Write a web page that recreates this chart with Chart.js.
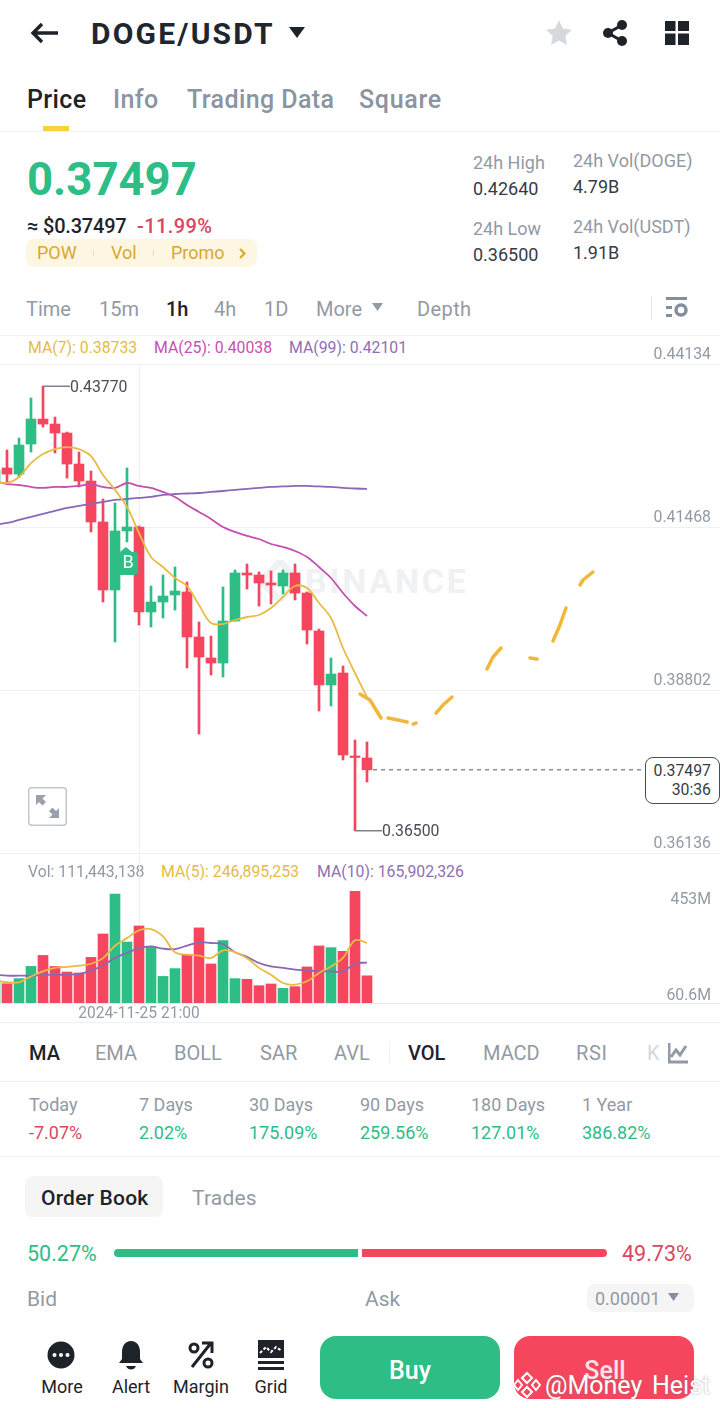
<!DOCTYPE html>
<html>
<head>
<meta charset="utf-8">
<title>DOGE/USDT</title>
<script src="https://cdn.jsdelivr.net/npm/chart.js@4/dist/chart.umd.min.js"></script>
<style>
  html, body { margin: 0; padding: 0; background: #fff; }
  #page { position: relative; width: 720px; height: 1408px; overflow: hidden; background: #fff; font-family: Roboto, sans-serif; color: #929AA5; }
  #page > * { position: absolute; }
  .t { transform: translateY(-50%); white-space: nowrap; line-height: 1; }
  .c { transform: translate(-50%, -50%); white-space: nowrap; line-height: 1; }
  .dark { color: #1E2329; }
  .green { color: #2EBD85; }
  .red { color: #D9475F; }
  .f16 { font-size: 15.8px; }
  .f17 { font-size: 17px; }
  .f18 { font-size: 18px; }
  .f20 { font-size: 20px; }
  .f21 { font-size: 21px; }
  .f25 { font-size: 25px; font-weight: 500; }
  .rule { left: 0; width: 720px; height: 1px; background: #EEF0F2; }
  .box { border-radius: 8px; background: #F5F5F5; }
</style>
</head>
<body>
<div id="page">

  <!-- header -->
  <svg style="left:30px;top:21px" width="30" height="24" viewBox="0 0 30 24"><path d="M28 12H4M12 3L3 12l9 9" fill="none" stroke="#1E2329" stroke-width="3.4"/></svg>
  <span class="t dark" style="left:91px;top:34px;font-size:30px;font-weight:700;letter-spacing:2.2px;color:#202630">DOGE/USDT</span>
  <svg style="left:288px;top:26px" width="18" height="13" viewBox="0 0 18 13"><path d="M1 1h16l-8 11z" fill="#1E2329"/></svg>
  <svg style="left:545px;top:19px" width="28" height="28" viewBox="0 0 24 24"><path d="M12 1l3.4 7.2 7.6 1-5.6 5.3 1.5 7.8L12 18.4 5.100 22.300l1.500-7.800L1 9.200l7.600-1z" fill="#D5D9DE"/></svg>
  <svg style="left:602px;top:19px" width="26" height="28" viewBox="0 0 26 28"><path d="M20 6L6 14l14 8" fill="none" stroke="#1E2329" stroke-width="3"/><circle cx="20" cy="6" r="5" fill="#1E2329"/><circle cx="6" cy="14" r="5" fill="#1E2329"/><circle cx="20" cy="22" r="5" fill="#1E2329"/></svg>
  <svg style="left:665px;top:21px" width="24" height="24" viewBox="0 0 24 24"><path d="M0 0h10.500v10H0zM13 0h11v10H13zM0 12.500h10.500V24H0zM13 12.500h11V24H13z" fill="#1E2329"/></svg>

  <span class="t f25 dark" style="left:27px;top:99px;letter-spacing:.4px">Price</span>
  <span class="t f25" style="left:113px;top:99px;color:#8B94A1;letter-spacing:.4px">Info</span>
  <span class="t f25" style="left:187px;top:99px;color:#8B94A1;letter-spacing:.4px">Trading Data</span>
  <span class="t f25" style="left:359px;top:99px;color:#8B94A1;letter-spacing:.7px">Square</span>
  <div style="left:43px;top:126px;width:26px;height:5px;background:#F5D33E"></div>
  <div class="rule" style="top:131px"></div>

  <!-- price block -->
  <span class="t green" style="left:27px;top:180px;font-size:45.500px;font-weight:700">0.37497</span>
  <span class="t f20 dark" style="left:27px;top:226px;font-weight:500;letter-spacing:-.2px">≈ $0.37497</span>
  <span class="t f20 red" style="left:137px;top:226px;font-weight:500;letter-spacing:.4px">-11.99%</span>
  <div class="box" style="left:26px;top:239px;width:231px;height:28px;background:#FDF6E3"></div>
  <span class="t f18" style="left:37px;top:253px;color:#D9A82E">POW</span>
  <span class="t f18" style="left:111px;top:253px;color:#D9A82E">Vol</span>
  <span class="t f18" style="left:171px;top:253px;color:#D9A82E">Promo</span>
  <div style="left:93px;top:250px;width:1px;height:6px;background:#E8DDB8"></div>
  <div style="left:153px;top:250px;width:1px;height:6px;background:#E8DDB8"></div>
  <svg style="left:238px;top:247px" width="9" height="13" viewBox="0 0 9 13"><path d="M2 2l4.500 4.500L2 11" fill="none" stroke="#D9A82E" stroke-width="2.200"/></svg>

  <span class="t f18" style="left:473px;top:163px">24h High</span>
  <span class="t f18" style="left:473px;top:189px;color:#363C45">0.42640</span>
  <span class="t f18" style="left:473px;top:229px">24h Low</span>
  <span class="t f18" style="left:473px;top:255px;color:#363C45">0.36500</span>
  <span class="t f18" style="left:573px;top:161px">24h Vol(DOGE)</span>
  <span class="t f18" style="left:573px;top:187px;color:#363C45">4.79B</span>
  <span class="t f18" style="left:573px;top:227px">24h Vol(USDT)</span>
  <span class="t f18" style="left:573px;top:253px;color:#363C45">1.91B</span>

  <!-- interval row -->
  <span class="t f20" style="left:26px;top:309px">Time</span>
  <span class="t f20" style="left:99px;top:309px">15m</span>
  <span class="t f20 dark" style="left:166px;top:309px;font-weight:500">1h</span>
  <span class="t f20" style="left:214px;top:309px">4h</span>
  <span class="t f20" style="left:264px;top:309px">1D</span>
  <span class="t f20" style="left:316px;top:309px">More</span>
  <svg style="left:371px;top:302px" width="13" height="10" viewBox="0 0 13 10"><path d="M1 1h11L6.500 9z" fill="#929AA5"/></svg>
  <span class="t f20" style="left:417px;top:309px;letter-spacing:.4px">Depth</span>
  <div style="left:651px;top:296px;width:1px;height:24px;background:#E6E8EA"></div>
  <svg style="left:666px;top:296px" width="23" height="23" viewBox="0 0 23 23"><path d="M0 1h21v3H0zM0 10h6v3H0zM0 18h6v3H0z" fill="#848E9C"/><circle cx="15" cy="14" r="5" fill="none" stroke="#848E9C" stroke-width="3.500"/></svg>
  <div class="rule" style="top:335px"></div>

  <span class="t f16" style="left:28px;top:348px;color:#E5BB46">MA(7): 0.38733</span>
  <span class="t f16" style="left:154px;top:348px;color:#C850B0">MA(25): 0.40038</span>
  <span class="t f16" style="left:289px;top:348px;color:#8F6FB5">MA(99): 0.42101</span>

  <!-- watermark sits under the price canvas -->
  <svg style="left:259px;top:560px" width="42" height="42" viewBox="0 0 42 42"><path d="M21 2l19 19-19 19L2 21z" fill="none" stroke="#F0F1F2" stroke-width="7"/></svg>
  <span class="t" style="left:305px;top:581px;font-size:34px;font-weight:700;color:#F0F1F2;letter-spacing:2.8px">BINANCE</span>

  <canvas id="priceChart" width="720" height="515" style="left:0;top:340px"></canvas>

  <svg style="left:28px;top:787px" width="39" height="39" viewBox="0 0 39 39"><rect x=".75" y=".75" width="37.500" height="37.500" rx="3" fill="#fff" stroke="#C3C7CC" stroke-width="1.500"/><path d="M8 8h10l-3.500 3.500 3.500 3.500-3.500 3.500-3.500-3.500L8 18zM31 31H21l3.500-3.500-3.500-3.500 3.500-3.500 3.500 3.500L31 21z" fill="#9AA1AC"/></svg>

  <div style="left:645px;top:757px;width:73px;height:45px;border:1.500px solid #474D57;border-radius:8px;background:#fff"></div>
  <span class="t f16" style="right:9px;top:771px;color:#363C45">0.37497</span>
  <span class="t f16" style="right:9px;top:790px;color:#363C45">30:36</span>

  <span class="t f16" style="left:28px;top:872px">Vol: 111,443,138</span>
  <span class="t f16" style="left:161px;top:872px;color:#E5BB46">MA(5): 246,895,253</span>
  <span class="t f16" style="left:317px;top:872px;color:#8F6FB5">MA(10): 165,902,326</span>

  <canvas id="volumeChart" width="720" height="168" style="left:0;top:854px"></canvas>

  <div class="rule" style="top:1022px"></div>

  <!-- indicator row -->
  <span class="t f20 dark" style="left:29px;top:1053px;font-weight:500">MA</span>
  <span class="t f20" style="left:95px;top:1053px">EMA</span>
  <span class="t f20" style="left:174px;top:1053px">BOLL</span>
  <span class="t f20" style="left:260px;top:1053px">SAR</span>
  <span class="t f20" style="left:334px;top:1053px">AVL</span>
  <div style="left:389px;top:1053px;width:1px;height:20px;margin-top:-10px;background:#EEF0F2"></div>
  <span class="t f20 dark" style="left:408px;top:1053px;font-weight:500">VOL</span>
  <span class="t f20" style="left:483px;top:1053px">MACD</span>
  <span class="t f20" style="left:576px;top:1053px;letter-spacing:.6px">RSI</span>
  <span class="t f20" style="left:647px;top:1053px;color:#D5D8DC">K</span>
  <svg style="left:668px;top:1043px" width="21" height="21" viewBox="0 0 21 21"><path d="M1 0v19h19M3 14l5-7 4 5 6-9" fill="none" stroke="#929AA5" stroke-width="3"/></svg>
  <div class="rule" style="top:1081px"></div>

  <!-- performance row -->
  <span class="t f18" style="left:29px;top:1105px">Today</span>
  <span class="t f18" style="left:139px;top:1105px">7 Days</span>
  <span class="t f18" style="left:249px;top:1105px">30 Days</span>
  <span class="t f18" style="left:360px;top:1105px">90 Days</span>
  <span class="t f18" style="left:471px;top:1105px">180 Days</span>
  <span class="t f18" style="left:582px;top:1105px">1 Year</span>
  <span class="t f18 red" style="left:29px;top:1133px">-7.07%</span>
  <span class="t f18 green" style="left:139px;top:1133px">2.02%</span>
  <span class="t f18 green" style="left:249px;top:1133px">175.09%</span>
  <span class="t f18 green" style="left:360px;top:1133px">259.56%</span>
  <span class="t f18 green" style="left:471px;top:1133px">127.01%</span>
  <span class="t f18 green" style="left:582px;top:1133px">386.82%</span>
  <div class="rule" style="top:1156px"></div>

  <!-- order book -->
  <div class="box" style="left:25px;top:1176px;width:138px;height:41px"></div>
  <span class="t f21 dark" style="left:41px;top:1198px;font-weight:500;letter-spacing:.2px">Order Book</span>
  <span class="t f21" style="left:192px;top:1198px;letter-spacing:.2px">Trades</span>
  <span class="t green" style="left:27px;top:1254px;font-size:21.500px">50.27%</span>
  <div style="left:114px;top:1249px;width:244px;height:8px;border-radius:4px 0 0 4px;background:#2EBD85"></div>
  <div style="left:362px;top:1249px;width:245px;height:8px;border-radius:0 4px 4px 0;background:#F6465D"></div>
  <span class="t red" style="left:622px;top:1254px;font-size:21.500px">49.73%</span>
  <span class="t f21" style="left:27px;top:1299px">Bid</span>
  <span class="t f21" style="left:365px;top:1299px">Ask</span>
  <div class="box" style="left:587px;top:1284px;width:107px;height:28px"></div>
  <span class="t f18" style="left:595px;top:1299px">0.00001</span>
  <svg style="left:667px;top:1292px" width="13" height="10" viewBox="0 0 13 10"><path d="M1 1h11L6.500 9z" fill="#848E9C"/></svg>

  <!-- bottom bar -->
  <svg style="left:47px;top:1341px" width="28" height="28" viewBox="0 0 28 28"><circle cx="14" cy="14" r="13.500" fill="#1E2329"/><circle cx="7.500" cy="14" r="2" fill="#fff"/><circle cx="14" cy="14" r="2" fill="#fff"/><circle cx="20.500" cy="14" r="2" fill="#fff"/></svg>
  <svg style="left:118px;top:1340px" width="26" height="30" viewBox="0 0 26 30"><path d="M13 1c6 0 9 5 9 11v7l3 4H1l3-4v-7C4 6 7 1 13 1zM8 26h10c-1 2.500-3 3.500-5 3.500S9 28.500 8 26z" fill="#1E2329"/></svg>
  <svg style="left:188px;top:1340px" width="26" height="30" viewBox="0 0 26 30"><path d="M4 27L23 3M14 3h10v10" fill="none" stroke="#1E2329" stroke-width="3"/><circle cx="6" cy="8" r="4" fill="none" stroke="#1E2329" stroke-width="3"/><circle cx="20" cy="23" r="4" fill="none" stroke="#1E2329" stroke-width="3"/></svg>
  <svg style="left:258px;top:1340px" width="26" height="30" viewBox="0 0 26 30"><path d="M0 0h26v18H0zM0 21h26v3H0zM0 27h26v3H0z" fill="#1E2329"/><path d="M2 13l6-6 5 5 5-5 6 4" fill="none" stroke="#fff" stroke-width="2" stroke-dasharray="3 2"/></svg>
  <span class="c f18 dark" style="left:62px;top:1387px;font-weight:400">More</span>
  <span class="c f18 dark" style="left:131px;top:1387px">Alert</span>
  <span class="c f18 dark" style="left:201px;top:1387px">Margin</span>
  <span class="c f18 dark" style="left:271px;top:1387px">Grid</span>
  <div style="left:320px;top:1336px;width:180px;height:63px;border-radius:16px;background:#2EBD85"></div>
  <div style="left:514px;top:1336px;width:180px;height:63px;border-radius:16px;background:#F6465D"></div>
  <span class="c" style="left:410px;top:1370px;font-size:25px;font-weight:500;color:#fff">Buy</span>
  <span class="c" style="left:605px;top:1370px;font-size:25px;font-weight:500;color:#F9E3E6">Sell</span>

  <svg style="left:513px;top:1371px" width="28" height="28" viewBox="0 0 28 28"><path d="M14 2l5 5-5 5-5-5zM5 9l4 5-4 5-4-5zM23 9l4 5-4 5-4-5zM14 16l5 5-5 5-5-5z" fill="none" stroke="#fff" stroke-width="2"/></svg>
  <span class="t" style="left:545px;top:1385px;font-size:25px;color:#fff;text-shadow:0 0 2px rgba(120,120,120,.7);word-spacing:3.500px">@Money Heist</span>

</div>

<script>
// =========================
// DATA
// =========================

const candleTimes = [
  "2024-11-25 09:00", "2024-11-25 10:00", "2024-11-25 11:00", "2024-11-25 12:00",
  "2024-11-25 13:00", "2024-11-25 14:00", "2024-11-25 15:00", "2024-11-25 16:00",
  "2024-11-25 17:00", "2024-11-25 18:00", "2024-11-25 19:00", "2024-11-25 20:00",
  "2024-11-25 21:00", "2024-11-25 22:00", "2024-11-25 23:00", "2024-11-26 00:00",
  "2024-11-26 01:00", "2024-11-26 02:00", "2024-11-26 03:00", "2024-11-26 04:00",
  "2024-11-26 05:00", "2024-11-26 06:00", "2024-11-26 07:00", "2024-11-26 08:00",
  "2024-11-26 09:00", "2024-11-26 10:00", "2024-11-26 11:00", "2024-11-26 12:00",
  "2024-11-26 13:00", "2024-11-26 14:00", "2024-11-26 15:00", "2024-11-26 16:00"
];

const openPrices = [
  0.42204, 0.42433, 0.42334, 0.42825, 0.43234, 0.43152, 0.43005, 0.42498,
  0.42220, 0.41550, 0.40438, 0.41403, 0.41468, 0.40078, 0.40241, 0.40356,
  0.40405, 0.39669, 0.39325, 0.39243, 0.39930, 0.40716, 0.40683, 0.40552,
  0.40503, 0.40716, 0.40388, 0.39767, 0.38884, 0.39080, 0.37723, 0.37690
];

const highPrices = [
  0.42482, 0.42727, 0.42923, 0.43578, 0.43770, 0.43267, 0.43021, 0.42694,
  0.42384, 0.41926, 0.41861, 0.42433, 0.41484, 0.40503, 0.40683, 0.40814,
  0.40568, 0.39914, 0.39685, 0.40487, 0.40765, 0.40863, 0.40732, 0.40749,
  0.40765, 0.40863, 0.40405, 0.39799, 0.39325, 0.39194, 0.37985, 0.37952
];

const lowPrices = [
  0.42139, 0.42188, 0.42285, 0.42694, 0.43103, 0.42678, 0.42269, 0.42123,
  0.41387, 0.40241, 0.39587, 0.41223, 0.39865, 0.39832, 0.39980, 0.40110,
  0.39162, 0.38082, 0.39047, 0.39014, 0.39930, 0.40454, 0.40176, 0.40209,
  0.40372, 0.40274, 0.39554, 0.38458, 0.38540, 0.37657, 0.36500, 0.37297
];

const closePrices = [
  0.42400, 0.42334, 0.42809, 0.43234, 0.43152, 0.43005, 0.42498, 0.42220,
  0.41550, 0.40438, 0.41403, 0.41468, 0.40078, 0.40241, 0.40339, 0.40421,
  0.39669, 0.39342, 0.39243, 0.39930, 0.40716, 0.40683, 0.40552, 0.40519,
  0.40716, 0.40388, 0.39783, 0.38884, 0.39063, 0.37739, 0.37698, 0.37497
];

const ma7Values = [
  0.42220, 0.42188, 0.42285, 0.42514, 0.42662, 0.42743, 0.42776, 0.42743,
  0.42629, 0.42318, 0.42075, 0.41796, 0.41370, 0.40977, 0.40814, 0.40634,
  0.40503, 0.40192, 0.39898, 0.39881, 0.39947, 0.39996, 0.40029, 0.40143,
  0.40323, 0.40503, 0.40470, 0.40225, 0.39980, 0.39489, 0.39080, 0.38687
];

const ma25Values = [
  0.42220, 0.42171, 0.42155, 0.42123, 0.42107, 0.42123, 0.42123, 0.42139,
  0.42171, 0.42123, 0.42107, 0.42188, 0.42139, 0.42107, 0.42041, 0.41959,
  0.41828, 0.41714, 0.41600, 0.41468, 0.41387, 0.41321, 0.41272, 0.41190,
  0.41141, 0.41076, 0.40977, 0.40814, 0.40634, 0.40388, 0.40176, 0.40013
];

const ma99Values = [
  0.41501, 0.41534, 0.41583, 0.41632, 0.41681, 0.41730, 0.41779, 0.41812,
  0.41845, 0.41877, 0.41910, 0.41926, 0.41943, 0.41959, 0.41992, 0.42008,
  0.42016, 0.42024, 0.42041, 0.42057, 0.42075, 0.42090, 0.42107, 0.42123,
  0.42131, 0.42139, 0.42139, 0.42131, 0.42123, 0.42107, 0.42098, 0.42090
];

// volumes in millions
const volumeValues = [
  89, 79, 100, 150, 195, 150, 127, 123,
  187, 283, 447, 250, 316, 228, 109, 141,
  198, 308, 160, 256, 100, 97, 71, 78,
  60, 67, 148, 234, 227, 212, 458, 111.44
];

const volumeMa5Values = [
  93, 85, 85, 109, 130, 144, 148, 153,
  161, 184, 235, 266, 298, 303, 273, 208,
  198, 194, 184, 216, 209, 184, 144, 116,
  82, 75, 89, 123, 150, 185, 257, 246.9
];

const volumeMa10Values = [
  116, 112, 112, 112, 115, 116, 116, 119,
  133, 154, 185, 205, 225, 232, 223, 221,
  235, 249, 246, 242, 208, 189, 164, 150,
  144, 137, 134, 130, 130, 130, 161, 165.9
];

const priceTicks = [0.44134, 0.41468, 0.38802, 0.36136];
const priceTickLabels = ["0.44134", "0.41468", "0.38802", "0.36136"];
const volumeTicks = [453, 60.6];
const volumeTickLabels = ["453M", "60.6M"];

const lastPrice = 0.37497;
const lastPriceSpan = [31.5, 54.17];

const highCandle = 4;
const lowCandle = 30;
const buyCandle = 11;
const buyPrice = 0.41141;
const crosshairCandle = 12;

// the yellow line someone painted over the screenshot (null = pen lifted)
const sketchHours = [
  30.42, 31.25, 32.17, 32.4,
  32.75, 33.58, 34.35, 34.6,
  34.85, 35.08, 36,
  36.75, 37.33, 38.08, 40,
  41, 41.5, 42.17, 43,
  44.58, 45.17, 46,
  46.5, 47.08, 47.58, 48,
  48.75, 49, 49.83
];

const sketchPrices = [
  0.38736, 0.38638, 0.38344, null,
  0.38344, 0.38311, 0.38278, null,
  0.38245, 0.38261, null,
  0.38425, 0.38556, 0.38687, null,
  0.39145, 0.39342, 0.39489, null,
  0.39325, 0.39309, null,
  0.39603, 0.39865, 0.40143, null,
  0.40519, 0.40601, 0.40732
];

const UP_COLOR = "#2EBD85";
const DOWN_COLOR = "#F6465D";
const GRID_COLOR = "#EEF0F2";
const TEXT_COLOR = "#929AA5";


// =========================
// HELPERS
// =========================

function candleColors() {

  return openPrices.map(
    (open, i) => closePrices[i] >= open ? UP_COLOR : DOWN_COLOR
  );

}


function lineDataset(values, color, width) {

  return {
    type: "line",
    order: 1,
    data: values.map((y, i) => ({ x: i, y })),
    borderColor: color,
    borderWidth: width,
    pointRadius: 0,
    tension: 0.35
  };

}


function xAxis(showLabel) {

  return {
    type: "linear",
    offset: false,
    min: 5 / 12,
    max: 60 + 5 / 12,
    afterBuildTicks: scale => {
      scale.ticks = [{ value: crosshairCandle }];
    },
    afterFit: scale => {
      scale.height = showLabel ? 19 : 0;
    },
    grid: { offset: false, color: GRID_COLOR, drawTicks: false },
    border: { display: showLabel, color: "#E6E8EA" },
    ticks: {
      display: showLabel,
      maxRotation: 0,
      padding: 2,
      color: TEXT_COLOR,
      font: { family: "Roboto", size: 15.6 },
      callback: value => candleTimes[value]
    }
  };

}


function yAxis(min, max, ticks, showGrid) {

  return {
    position: "right",
    min,
    max,
    afterBuildTicks: scale => {
      scale.ticks = ticks.map(value => ({ value }));
    },
    afterFit: scale => {
      scale.width = 0;
    },
    grid: { display: showGrid, color: GRID_COLOR, drawTicks: false },
    border: { display: false },
    ticks: { display: false }
  };

}


function axisLabelsPlugin(values, labels, offset) {

  return {
    id: "axisLabels",
    afterDatasetsDraw(chart) {
      const ctx = chart.ctx;
      ctx.save();
      ctx.font = "15.8px Roboto";
      ctx.fillStyle = TEXT_COLOR;
      ctx.textAlign = "right";
      ctx.textBaseline = "middle";
      values.forEach((value, i) => {
        ctx.fillText(labels[i], 711, chart.scales.y.getPixelForValue(value) + offset);
      });
      ctx.restore();
    }
  };

}


// high and low callouts plus the buy tag on the candles
const priceMarksPlugin = {
  id: "priceMarks",
  afterDatasetsDraw(chart) {

    const ctx = chart.ctx;
    const { x, y } = chart.scales;

    ctx.save();
    ctx.font = "15.8px Roboto";
    ctx.textBaseline = "middle";

    [
      [highCandle, highPrices[highCandle]],
      [lowCandle, lowPrices[lowCandle]]
    ].forEach(([candle, price]) => {
      const px = x.getPixelForValue(candle);
      const py = y.getPixelForValue(price);
      ctx.strokeStyle = "#7C828A";
      ctx.lineWidth = 1.5;
      ctx.beginPath();
      ctx.moveTo(px, py);
      ctx.lineTo(px + 27, py);
      ctx.stroke();
      ctx.fillStyle = "#474D57";
      ctx.fillText(price.toFixed(5), px + 27, py + 1.5);
    });

    const bx = x.getPixelForValue(buyCandle);
    const by = y.getPixelForValue(buyPrice);
    ctx.fillStyle = UP_COLOR;
    ctx.beginPath();
    ctx.moveTo(bx - 1, by);
    ctx.lineTo(bx + 5, by + 5);
    ctx.lineTo(bx + 9, by + 5);
    ctx.arcTo(bx + 11, by + 5, bx + 11, by + 7, 2);
    ctx.lineTo(bx + 11, by + 24);
    ctx.arcTo(bx + 11, by + 28, bx + 7, by + 28, 4);
    ctx.lineTo(bx - 7, by + 28);
    ctx.lineTo(bx - 7, by + 5);
    ctx.closePath();
    ctx.fill();
    ctx.fillStyle = "#fff";
    ctx.textAlign = "center";
    ctx.font = "18px Roboto";
    ctx.fillText("B", bx + 1, by + 17);

    ctx.restore();

  }
};


// =========================
// PRICE CHART
// =========================

function renderPriceChart() {

  const colors = candleColors();

  new Chart(document.getElementById("priceChart"), {
    type: "bar",
    data: {
      datasets: [
        lineDataset(ma7Values, "#E9BB45", 1.8),
        lineDataset(ma25Values, "#C44FAE", 1.8),
        lineDataset(ma99Values, "#8A68B4", 1.8),
        {
          type: "line",
          order: 1,
          data: sketchHours.map((x, i) => ({ x, y: sketchPrices[i] })),
          borderColor: "#F0B73C",
          borderWidth: 3.5,
          borderCapStyle: "round",
          borderJoinStyle: "round",
          pointRadius: 0,
          tension: 0
        },
        {
          type: "line",
          order: 1,
          data: lastPriceSpan.map(x => ({ x, y: lastPrice })),
          borderColor: "#8A9099",
          borderWidth: 1.5,
          borderDash: [4, 4],
          pointRadius: 0
        },
        {
          order: 2,
          grouped: false,
          barThickness: 10,
          data: openPrices.map((open, i) => ({ x: i, y: [open, closePrices[i]] })),
          backgroundColor: colors
        },
        {
          order: 3,
          grouped: false,
          barThickness: 2,
          data: highPrices.map((high, i) => ({ x: i, y: [lowPrices[i], high] })),
          backgroundColor: colors
        }
      ]
    },
    options: {
      responsive: false,
      animation: false,
      layout: { padding: { top: 24, bottom: 2 } },
      plugins: { legend: { display: false }, tooltip: { enabled: false } },
      scales: {
        x: xAxis(false),
        y: yAxis(priceTicks[3], priceTicks[0], priceTicks, true)
      }
    },
    plugins: [
      axisLabelsPlugin(priceTicks, priceTickLabels, -8.5),
      priceMarksPlugin
    ]
  });

}


// =========================
// VOLUME CHART
// =========================

function renderVolumeChart() {

  new Chart(document.getElementById("volumeChart"), {
    type: "bar",
    data: {
      datasets: [
        lineDataset(volumeMa5Values, "#E9BB45", 1.8),
        lineDataset(volumeMa10Values, "#8A68B4", 1.8),
        {
          order: 2,
          barThickness: 10,
          data: volumeValues.map((y, i) => ({ x: i, y })),
          backgroundColor: candleColors()
        }
      ]
    },
    options: {
      responsive: false,
      animation: false,
      plugins: { legend: { display: false }, tooltip: { enabled: false } },
      scales: {
        x: xAxis(true),
        y: yAxis(0, 611, volumeTicks, false)
      }
    },
    plugins: [
      axisLabelsPlugin(volumeTicks, volumeTickLabels, 8)
    ]
  });

}


renderPriceChart();
renderVolumeChart();
</script>
</body>
</html>
